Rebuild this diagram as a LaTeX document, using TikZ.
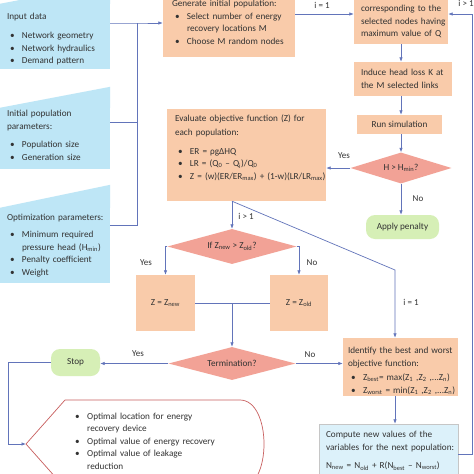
\documentclass[tikz,border=0pt]{standalone}
\usepackage{fontspec}
\setmainfont{Carlito}
\usetikzlibrary{positioning, shapes.geometric, arrows.meta}
\definecolor{InputColor}{RGB}{190,230,246}
\definecolor{StepColor}{RGB}{249,203,170}
\definecolor{CheckColor}{RGB}{242,162,150}
\definecolor{EndColor}{RGB}{214,239,182}
\definecolor{UpdateColor}{RGB}{220,241,250}
\definecolor{LinkColor}{RGB}{98,116,186}
\definecolor{ResultColor}{RGB}{200,95,95}
\definecolor{TextColor}{RGB}{50,50,50}
\newcommand{\bitem}[1]{\mbox{\hspace*{3pt}\makebox[12pt][l]{\textbullet}#1}}
\newcommand{\bcont}[1]{\mbox{\hspace*{15pt}#1}}
\newcommand{\bline}[1]{\mbox{#1}}
\newcommand{\pad}[1]{\rule{0pt}{#1}}
\newcommand{\drop}[1]{\rule[-#1]{0pt}{#1}}

\begin{document}
\begin{tikzpicture}[
    x=1pt, y=-1pt,
    every node/.style={font=\fontsize{9.2}{12.5}\selectfont, text=TextColor},
    >={Latex[length=4.5pt,width=3.5pt]},
    inbox/.style={rectangle, fill=InputColor, minimum width=110pt, text width=96pt, inner xsep=7pt, inner ysep=0.5pt, align=left},
    stepbox/.style={rectangle, fill=StepColor, inner ysep=0.5pt, align=left},
    check/.style={diamond, fill=CheckColor, inner sep=0pt, aspect=3},
    endbox/.style={rectangle, rounded corners=9pt, fill=EndColor},
    link/.style={draw=LinkColor, line width=0.7pt},
    lbl/.style={inner sep=1pt, font=\fontsize{9}{11}\selectfont},
]

\useasboundingbox (0,0) rectangle (474,474);
\clip (0,0) rectangle (474,474);
\fill[white] (0,0) rectangle (474,474);

% Input boxes
\node[inbox, minimum height=65pt] (in1) at (55,36.5) {\pad{12pt}\bline{Input data}\\[6.5pt]\bitem{Network geometry}\\\bitem{Network hydraulics}\\\bitem{Demand pattern}};
\node[inbox, minimum height=61pt] (in2) at (55,138.5) {\bline{Initial population}\\\bline{parameters:}\\[6pt]\bitem{Population size}\\\bitem{Generation size}\drop{6pt}};
\node[inbox, minimum height=75pt] (in3) at (55,245.5) {\bline{Optimization parameters:}\\[5pt]\bitem{Minimum required}\\\bcont{pressure head (H\textsubscript{min})}\\\bitem{Penalty coefficient}\\\bitem{Weight}};
\fill[InputColor] (in1.north west) -- (in1.north east) -- ([yshift=21pt]in1.north east) -- cycle;
\fill[InputColor] (in2.north west) -- (in2.north east) -- ([yshift=21pt]in2.north east) -- cycle;
\fill[InputColor] (in3.north west) -- (in3.north east) -- ([yshift=23pt]in3.north east) -- cycle;

% Bus to initial population
\coordinate (b1) at (137,23);
\coordinate (b2) at (137,122);
\coordinate (b3) at (137,225);

% Initial population
\node[stepbox, minimum width=132pt, minimum height=65pt, text width=114pt, inner xsep=9pt] (gen) at (229,24.5) {\bline{Generate initial population:}\\\bitem{Select number of energy}\\\bcont{recovery locations M}\\\bitem{Choose M random nodes}\drop{4pt}};

% Right column
\node[stepbox, minimum width=94pt, minimum height=60pt, text width=80pt, inner xsep=7pt] (sel) at (401,14) {\pad{22pt}\bline{corresponding to the}\\\bline{selected nodes having}\\\bline{maximum value of Q}};
\node[stepbox, minimum width=98pt, minimum height=34pt, text width=84pt, inner xsep=7pt] (ind) at (403,79) {\bline{Induce head loss K at}\\\bline{the M selected links}};
\node[stepbox, minimum width=85pt, minimum height=19pt, align=center] (run) at (399.5,124.5) {Run simulation};
\node[check, minimum width=101pt, minimum height=31pt] (hchk) at (401,168) {H > H\textsubscript{min}?};
\node[endbox, minimum width=73pt, minimum height=24pt] (pen) at (402.5,227) {Apply penalty};

% Objective function
\node[stepbox, minimum width=159pt, minimum height=92pt, text width=143pt, inner xsep=8pt] (eval) at (246.5,155) {\bline{Evaluate objective function (Z) for}\\[2pt]\bline{each population:}\\[6pt]\bitem{ER = ρgΔHQ}\\\bitem{LR = (Q\textsubscript{0} -- Q\textsubscript{i})/Q\textsubscript{0}}\\\bitem{Z = (w)(ER/ER\textsubscript{max}) + (1-w)(LR/LR\textsubscript{max})}\drop{16pt}};

% Comparison
\node[check, minimum width=129pt, minimum height=35pt] (zchk) at (232,246.5) {If Z\textsubscript{new} > Z\textsubscript{old}?};
\node[stepbox, minimum width=59pt, minimum height=56pt, align=center] (znew) at (165.5,303) {Z = Z\textsubscript{new}};
\node[stepbox, minimum width=58pt, minimum height=56pt, align=center] (zold) at (299,303) {Z = Z\textsubscript{old}};
\node[check, minimum width=127pt, minimum height=33pt] (term) at (232,363.5) {Termination?};
\node[endbox, minimum width=49pt, minimum height=27pt] (stop) at (75.5,362.5) {Stop};

% Best and worst, update
\node[stepbox, minimum width=115pt, minimum height=58pt, text width=105pt, inner xsep=5pt] (ident) at (400.5,367) {\pad{14pt}\bline{Identify the best and worst}\\[1pt]\bline{objective function:}\\[1pt]\bitem{Z\textsubscript{best}= max(Z\textsubscript{1} ,Z\textsubscript{2} ,...Z\textsubscript{n})}\\[1pt]\bitem{Z\textsubscript{worst} = min(Z\textsubscript{1} ,Z\textsubscript{2} ,...Z\textsubscript{n})}};
\node[rectangle, fill=UpdateColor, draw=gray!45, minimum width=139pt, minimum height=60pt, text width=125pt, inner xsep=7pt, inner ysep=0.5pt, align=left] (comp) at (388.5,454) {\bline{Compute new values of the}\\\bline{variables for the next population:}\\[6pt]\bline{N\textsubscript{new} = N\textsubscript{old} + R(N\textsubscript{best} -- N\textsubscript{worst})}\drop{8pt}};

% Output display
\coordinate (out) at (26,444);
\draw[draw=ResultColor, fill=white, line width=0.7pt] (out) -- (65,400) -- (240,400) .. controls (272,400) and (272,488) .. (240,488) -- (65,488) -- cycle;
\node[text width=175pt, inner sep=0pt, anchor=west, align=left] (res) at (72,441) {\bitem{Optimal location for energy}\\\bcont{recovery device}\\\bitem{Optimal value of energy recovery}\\\bitem{Optimal value of leakage}\\\bcont{reduction}};

% Connectors
\draw[link] (in2.east |- b2) -- (b2);
\draw[link] (in3.east |- b3) -- (b3) -- (b1);
\draw[link,->] (in1.east |- b1) -- (b1) -- (b1 -| gen.west);
\draw[link,->] (gen.east |- sel.west) -- (sel.west);
\draw[link,->] (comp.east) -- ++(14,0) |- (sel.east);
\draw[link,->] (sel.south) -- (sel.south |- ind.north);
\draw[link,->] (hchk.north |- ind.south) -- (hchk.north |- run.north);
\draw[link,->] (hchk.north |- run.south) -- (hchk.north);
\draw[link,->] (hchk.south) -- (hchk.south |- pen.north);
\draw[link,->] (hchk.west) -- (hchk.west -| eval.east);
\draw[link,->] (zchk.north |- eval.south) -- (zchk.north);
\coordinate (kink) at (395,270);
\draw[link,->] (zchk.north |- eval.south) -- (kink) -- (kink |- ident.north);
\draw[link,->] (zchk.west) -| (znew.north);
\draw[link,->] (zchk.east) -| (zold.north);
\draw[link] (znew.east) -- (zold.west);
\draw[link,->] (term.north |- znew.east) -- (term.north);
\draw[link,->] (term.west) -- (term.west -| stop.east);
\draw[link,->] (term.east) -- (term.east -| ident.west);
\draw[link,->] (stop.west) -- ++(-42,0) |- (out);
\draw[link,->] (kink |- ident.south) -- (kink |- comp.north);

% Labels
\node[lbl] (l1) at (322,5) {i = 1};
\node[lbl] (l2) at (466,3) {i > 1};
\node[lbl] (l3) at (344,156) {Yes};
\node[lbl] (l4) at (418,199) {No};
\node[lbl] (l5) at (246,216) {i > 1};
\node[lbl] (l6) at (411,302) {i = 1};
\node[lbl] (l7) at (146,263) {Yes};
\node[lbl] (l8) at (312,263) {No};
\node[lbl] (l9) at (138,354) {Yes};
\node[lbl] (l10) at (310,355) {No};

\end{tikzpicture}
\end{document}
